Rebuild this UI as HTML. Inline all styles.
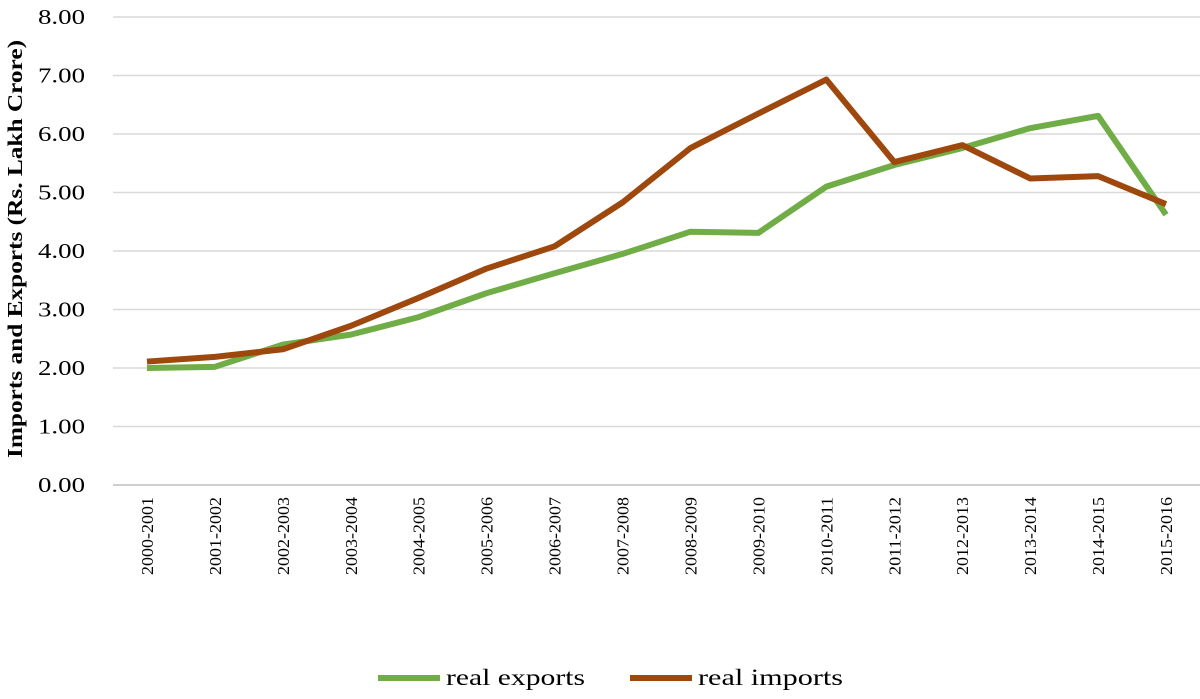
<!DOCTYPE html>
<html><head><meta charset="utf-8"><style>
body{margin:0;background:#fff;}
svg text{font-family:"Liberation Serif",serif;fill:#000;}
</style></head><body>
<svg id="chart" width="1200" height="694" viewBox="0 0 1200 694">
<g id="grid"></g>
<g id="yticks"></g>
<g id="xticks"></g>
<g id="series"></g>
<text transform="translate(22,249) rotate(-90)" text-anchor="middle" font-size="21" font-weight="bold" textLength="418" lengthAdjust="spacingAndGlyphs">Imports and Exports (Rs. Lakh Crore)</text>
<g>
<g><line x1="378" y1="678" x2="440" y2="678" stroke="#70AD47" stroke-width="6"/><text x="446" y="685" font-size="23" textLength="139" lengthAdjust="spacingAndGlyphs">real exports</text></g>
<g><line x1="630" y1="678" x2="692" y2="678" stroke="#9E480E" stroke-width="6"/><text x="698" y="685" font-size="23" textLength="145" lengthAdjust="spacingAndGlyphs">real imports</text></g>
</g>
</svg>
<script>
const categories=["2000-2001","2001-2002","2002-2003","2003-2004","2004-2005","2005-2006","2006-2007","2007-2008","2008-2009","2009-2010","2010-2011","2011-2012","2012-2013","2013-2014","2014-2015","2015-2016"];
const exportsVals=[2.00,2.02,2.40,2.57,2.87,3.28,3.62,3.95,4.33,4.31,5.10,5.47,5.76,6.10,6.31,4.62];
const importsVals=[2.11,2.19,2.32,2.72,3.20,3.70,4.08,4.83,5.76,6.35,6.93,5.52,5.81,5.24,5.28,4.80];
const yTicks=[0,1,2,3,4,5,6,7,8];
const NS="http://www.w3.org/2000/svg";
const left=113,right=1200,y0=485,yTop=17,yMax=8;
const band=(right-left)/categories.length;
function xs(i){return left+band*(i+0.5);}
function ys(v){return y0-(v/yMax)*(y0-yTop);}
function mk(tag,attrs,parent){const e=document.createElementNS(NS,tag);for(const k in attrs)e.setAttribute(k,attrs[k]);parent.appendChild(e);return e;}
const grid=document.getElementById('grid'),yt=document.getElementById('yticks'),xt=document.getElementById('xticks'),ser=document.getElementById('series');
yTicks.forEach(t=>{
  const l=mk('line',{x1:left,x2:right,y1:ys(t),y2:ys(t),stroke:t===0?'#bfbfbf':'#d9d9d9','stroke-width':1.5},grid);
  
  
  const tx=mk('text',{x:85,y:ys(t)+7,'text-anchor':'end','font-size':21,textLength:47,lengthAdjust:'spacingAndGlyphs'},yt);
  tx.textContent=t.toFixed(2);
  
  
});
categories.forEach((c,i)=>{
  const tx=mk('text',{transform:`translate(${xs(i)+6},${497}) rotate(-90)`,'text-anchor':'end','font-size':17,textLength:78,lengthAdjust:'spacingAndGlyphs'},xt);
  tx.textContent=c;
  
  
});
function line(vals,color,name){
  const p=mk('polyline',{points:vals.map((v,i)=>xs(i)+','+ys(v)).join(' '),fill:'none',stroke:color,'stroke-width':6,'stroke-linejoin':'round'},ser);
  
  
}
line(exportsVals,'#70AD47','real-exports-line');
line(importsVals,'#9E480E','real-imports-line');
</script>
</body></html>
